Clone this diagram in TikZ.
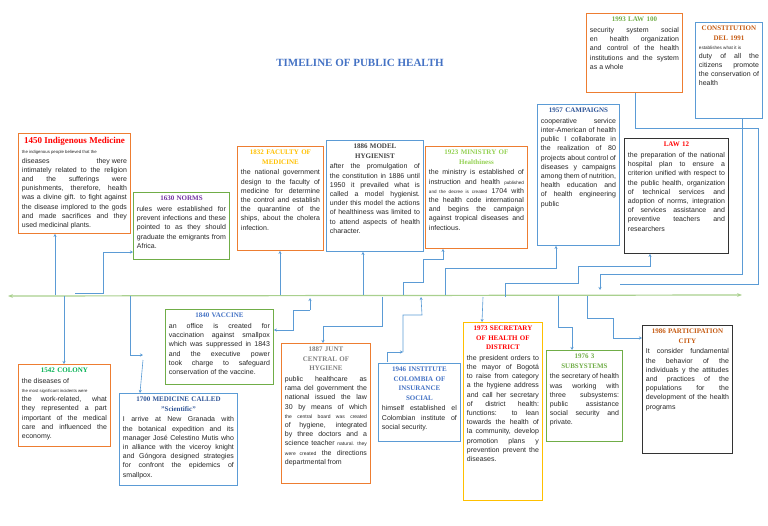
\documentclass[tikz,border=0pt]{standalone}
\usepackage{fontspec}
\setmainfont{Liberation Serif}
\setsansfont{Liberation Sans}
\usetikzlibrary{arrows.meta}
\definecolor{cOr}{RGB}{237,125,49}
\definecolor{cBl}{RGB}{91,155,213}
\definecolor{cGr}{RGB}{112,173,71}
\definecolor{cGo}{RGB}{255,192,0}
\definecolor{cLn}{RGB}{169,208,142}
\definecolor{tPu}{RGB}{112,48,160}
\definecolor{tYe}{RGB}{255,192,0}
\definecolor{tLg}{RGB}{146,208,80}
\definecolor{tDb}{RGB}{47,84,150}
\definecolor{tBl}{RGB}{68,114,196}
\definecolor{tOr}{RGB}{197,90,17}
\definecolor{tGy}{RGB}{127,127,127}
\definecolor{tGn}{RGB}{0,176,80}
\definecolor{tLw}{RGB}{112,173,71}
\newcommand\bodyf{\sffamily\fontsize{7}{9.2}\selectfont\hyphenpenalty=10000\exhyphenpenalty=10000\emergencystretch=20pt\tolerance=9999}
\newcommand\titf{\rmfamily\bfseries\fontsize{7}{9.5}\selectfont}
\newcommand\tlbox[9]{%
 \pgfmathsetmacro\tw{#4-7}%
 \node[draw=#6,line width=0.9pt,minimum width=#4pt,minimum height=#5pt,anchor=north west,inner sep=0pt] (#1) at (#2,#3) {};
 \node[anchor=north,text width=\tw pt,align=center,inner sep=0pt,text=#7,font=\titf] (#1t) at ([yshift=-4pt]#1.north) {#8};
 \node[anchor=north,text width=\tw pt,align=justify,inner sep=0pt,font=\bodyf,text=black!85] (#1b) at ([yshift=-5pt]#1t.south) {#9};}
\tikzset{conn/.style={draw=cBl,line width=0.6pt},
 arr/.style={-{Stealth[length=3pt,width=3pt]}}}
\begin{document}
\begin{tikzpicture}[x=1pt,y=-1pt]
\useasboundingbox (0,0) rectangle (768,525);
\node[font=\rmfamily\bfseries\fontsize{11}{13}\selectfont,text=tBl] (title) at (360,63) {TIMELINE OF PUBLIC HEALTH};
\coordinate (tlL) at (8,296); \coordinate (tlR) at (742,295);
\draw[draw=cLn,line width=1.2pt,{Stealth[length=5pt]}-{Stealth[length=5pt]}] (tlL) -- (tlR);

\tlbox{a}{18}{133}{112}{100}{cOr}{red}{\fontsize{9}{11}\selectfont 1450 Indigenous Medicine}{{\fontsize{4.3}{6}\selectfont the indigenous people believed that the}\\ diseases\hfill they were\\ intimately related to the religion and the sufferings were punishments, therefore, health was a divine gift. to fight against the disease implored to the gods and made sacrifices and they used medicinal plants.}
\tlbox{b}{133}{192}{96}{67}{cGr}{tPu}{1630 NORMS}{rules were established for prevent infections and these pointed to as they should graduate the emigrants from Africa.}
\tlbox{c}{237}{146}{86}{104}{cOr}{tYe}{1832 FACULTY OF\\ MEDICINE}{the national government design to the faculty of medicine for determine the control and establish the quarantine of the ships, about the cholera infection.}
\tlbox{d}{326}{140}{97}{111}{cBl}{black!75}{1886 MODEL\\ HYGIENIST}{after the promulgation of the constitution in 1886 until 1950 it prevailed what is called a model hygienist. under this model the actions of healthiness was limited to to attend aspects of health character.}
\tlbox{e}{425}{146}{102}{102}{cOr}{tLg}{1923 MINISTRY OF\\ Healthiness}{the ministry is established of instruction and health {\fontsize{4.6}{9}\selectfont published and the decree is created} 1704 with the health code international and begins the campaign against tropical diseases and infectious.}
\tlbox{f}{537}{104}{82}{141}{cBl}{tDb}{1957 CAMPAIGNS}{cooperative service inter-American of health public I collaborate in the realization of 80 projects about control of diseases y campaigns among them of nutrition, health education and of health engineering public}
\tlbox{g}{586}{13}{96}{79}{cOr}{tLw}{1993 LAW 100}{security system social en health organization and control of the health institutions and the system as a whole}
\tlbox{h}{695}{22}{67}{96}{cBl}{tOr}{CONSTITUTION\\ DEL 1991}{{\fontsize{4.6}{8}\selectfont establishes what it is}\\ duty of all the citizens promote the conservation of health}
\tlbox{i}{624}{138}{104}{115}{black!80}{red}{LAW 12}{the preparation of the national hospital plan to ensure a criterion unified with respect to the public health, organization of technical services and adoption of norms, integration of services assistance and preventive teachers and researchers}
\tlbox{j}{18}{364}{92}{82}{cOr}{tGn}{1542 COLONY}{the diseases of\\ {\fontsize{4.3}{6}\selectfont the most significant incidents were}\\ the work-related, what they represented a part important of the medical care and influenced the economy.}
\tlbox{k}{119}{393}{118}{92}{cBl}{tDb}{1700 MEDICINE CALLED\\ "Scientific"}{I arrive at New Granada with the botanical expedition and its manager José Celestino Mutis who in alliance with the viceroy knight and Góngora designed strategies for confront the epidemics of smallpox.}
\tlbox{l}{165}{309}{108}{75}{cGr}{tBl}{1840 VACCINE}{an office is created for vaccination against smallpox which was suppressed in 1843 and the executive power took charge to safeguard conservation of the vaccine.}
\tlbox{m}{281}{343}{89}{140}{cOr}{tGy}{1887 JUNT\\ CENTRAL OF\\ HYGIENE}{public healthcare as rama del government the national issued the law 30 by means of which {\fontsize{5}{9}\selectfont the central board was created} of hygiene, integrated by three doctors and a science teacher {\fontsize{5}{9}\selectfont natural. they were created} the directions departmental from}
\tlbox{n}{378}{363}{82}{78}{cBl}{tBl}{1946 INSTITUTE\\ COLOMBIA OF\\ INSURANCE\\ SOCIAL}{himself established el Colombian institute of social security.}
\tlbox{o}{463}{322}{79}{178}{cGo}{red}{1973 SECRETARY\\ OF HEALTH OF\\ DISTRICT}{the president orders to the mayor of Bogotá to raise from category a the hygiene address and call her secretary of district health: functions: to lean towards the health of la community, develop promotion plans y prevention prevent the diseases.}
\tlbox{p}{546}{350}{76}{91}{cGr}{tLw}{1976 3\\ SUBSYSTEMS}{the secretary of health was working with three subsystems: public assistance social security and private.}
\tlbox{q}{642}{325}{90}{128}{black!80}{tOr}{1986 PARTICIPATION\\ CITY}{It consider fundamental the behavior of the individuals y the attitudes and practices of the populations for the development of the health programs}

% connectors above
\draw[conn,arr] (55,295) -- (a.south -| 55,0);
\draw[conn,arr] (75,293) -- (103,293) -- (103,252) -- (b.west |- 0,252);
\draw[conn,arr] (280,295) -- (c.south -| 280,0);
\draw[conn,arr] (363,295) -- (d.south -| 363,0);
\draw[conn,arr] (403,295) -- (403,282) -- (423,282) -- (423,259) -- (443,259) -- (e.south -| 443,0);
\draw[conn,arr] (445,295) -- (445,268) -- (556,268) -- (f.south -| 556,0);
\draw[conn,arr] (505,297) -- (505,283) -- (578,283) -- (578,266) -- (650,266) -- (i.south -| 650,0);
\draw[conn,arr] (h.south -| 742,0) -- (742,274) -- (600,274) -- (600,290);
\draw[conn] (g.south -| 635,0) -- (635,128) -- (758,128) -- (758,284) -- (620,284);
% connectors below
\draw[conn,arr] (64,296) -- (j.north -| 64,0);
\draw[conn,arr] (130,296) -- (130,355) -- (143,355);
\draw[conn,arr] (143,360) -- (k.north -| 140,0);
\draw[conn,arr] (310,310) -- (310,298);
\draw[conn,arr] (310,310) -- (293,310) -- (293,330) -- (l.east |- 0,330);
\draw[conn,arr] (382,297) -- (382,326) -- (323,326) -- (m.north -| 323,0);
\draw[conn,arr] (403,352) -- (403,315) -- (422,315) -- (421,297);
\draw[conn,arr] (387,362) -- (387,352) -- (403,352);
\draw[conn,arr] (483,297) -- (o.north -| 482,0);
\draw[conn,arr] (558,296) -- (558,327) -- (572,327) -- (p.north -| 572,0);
\draw[conn,arr] (587,296) -- (587,318) -- (613,318) -- (613,338) -- (q.west |- 0,338);
\end{tikzpicture}
\end{document}
